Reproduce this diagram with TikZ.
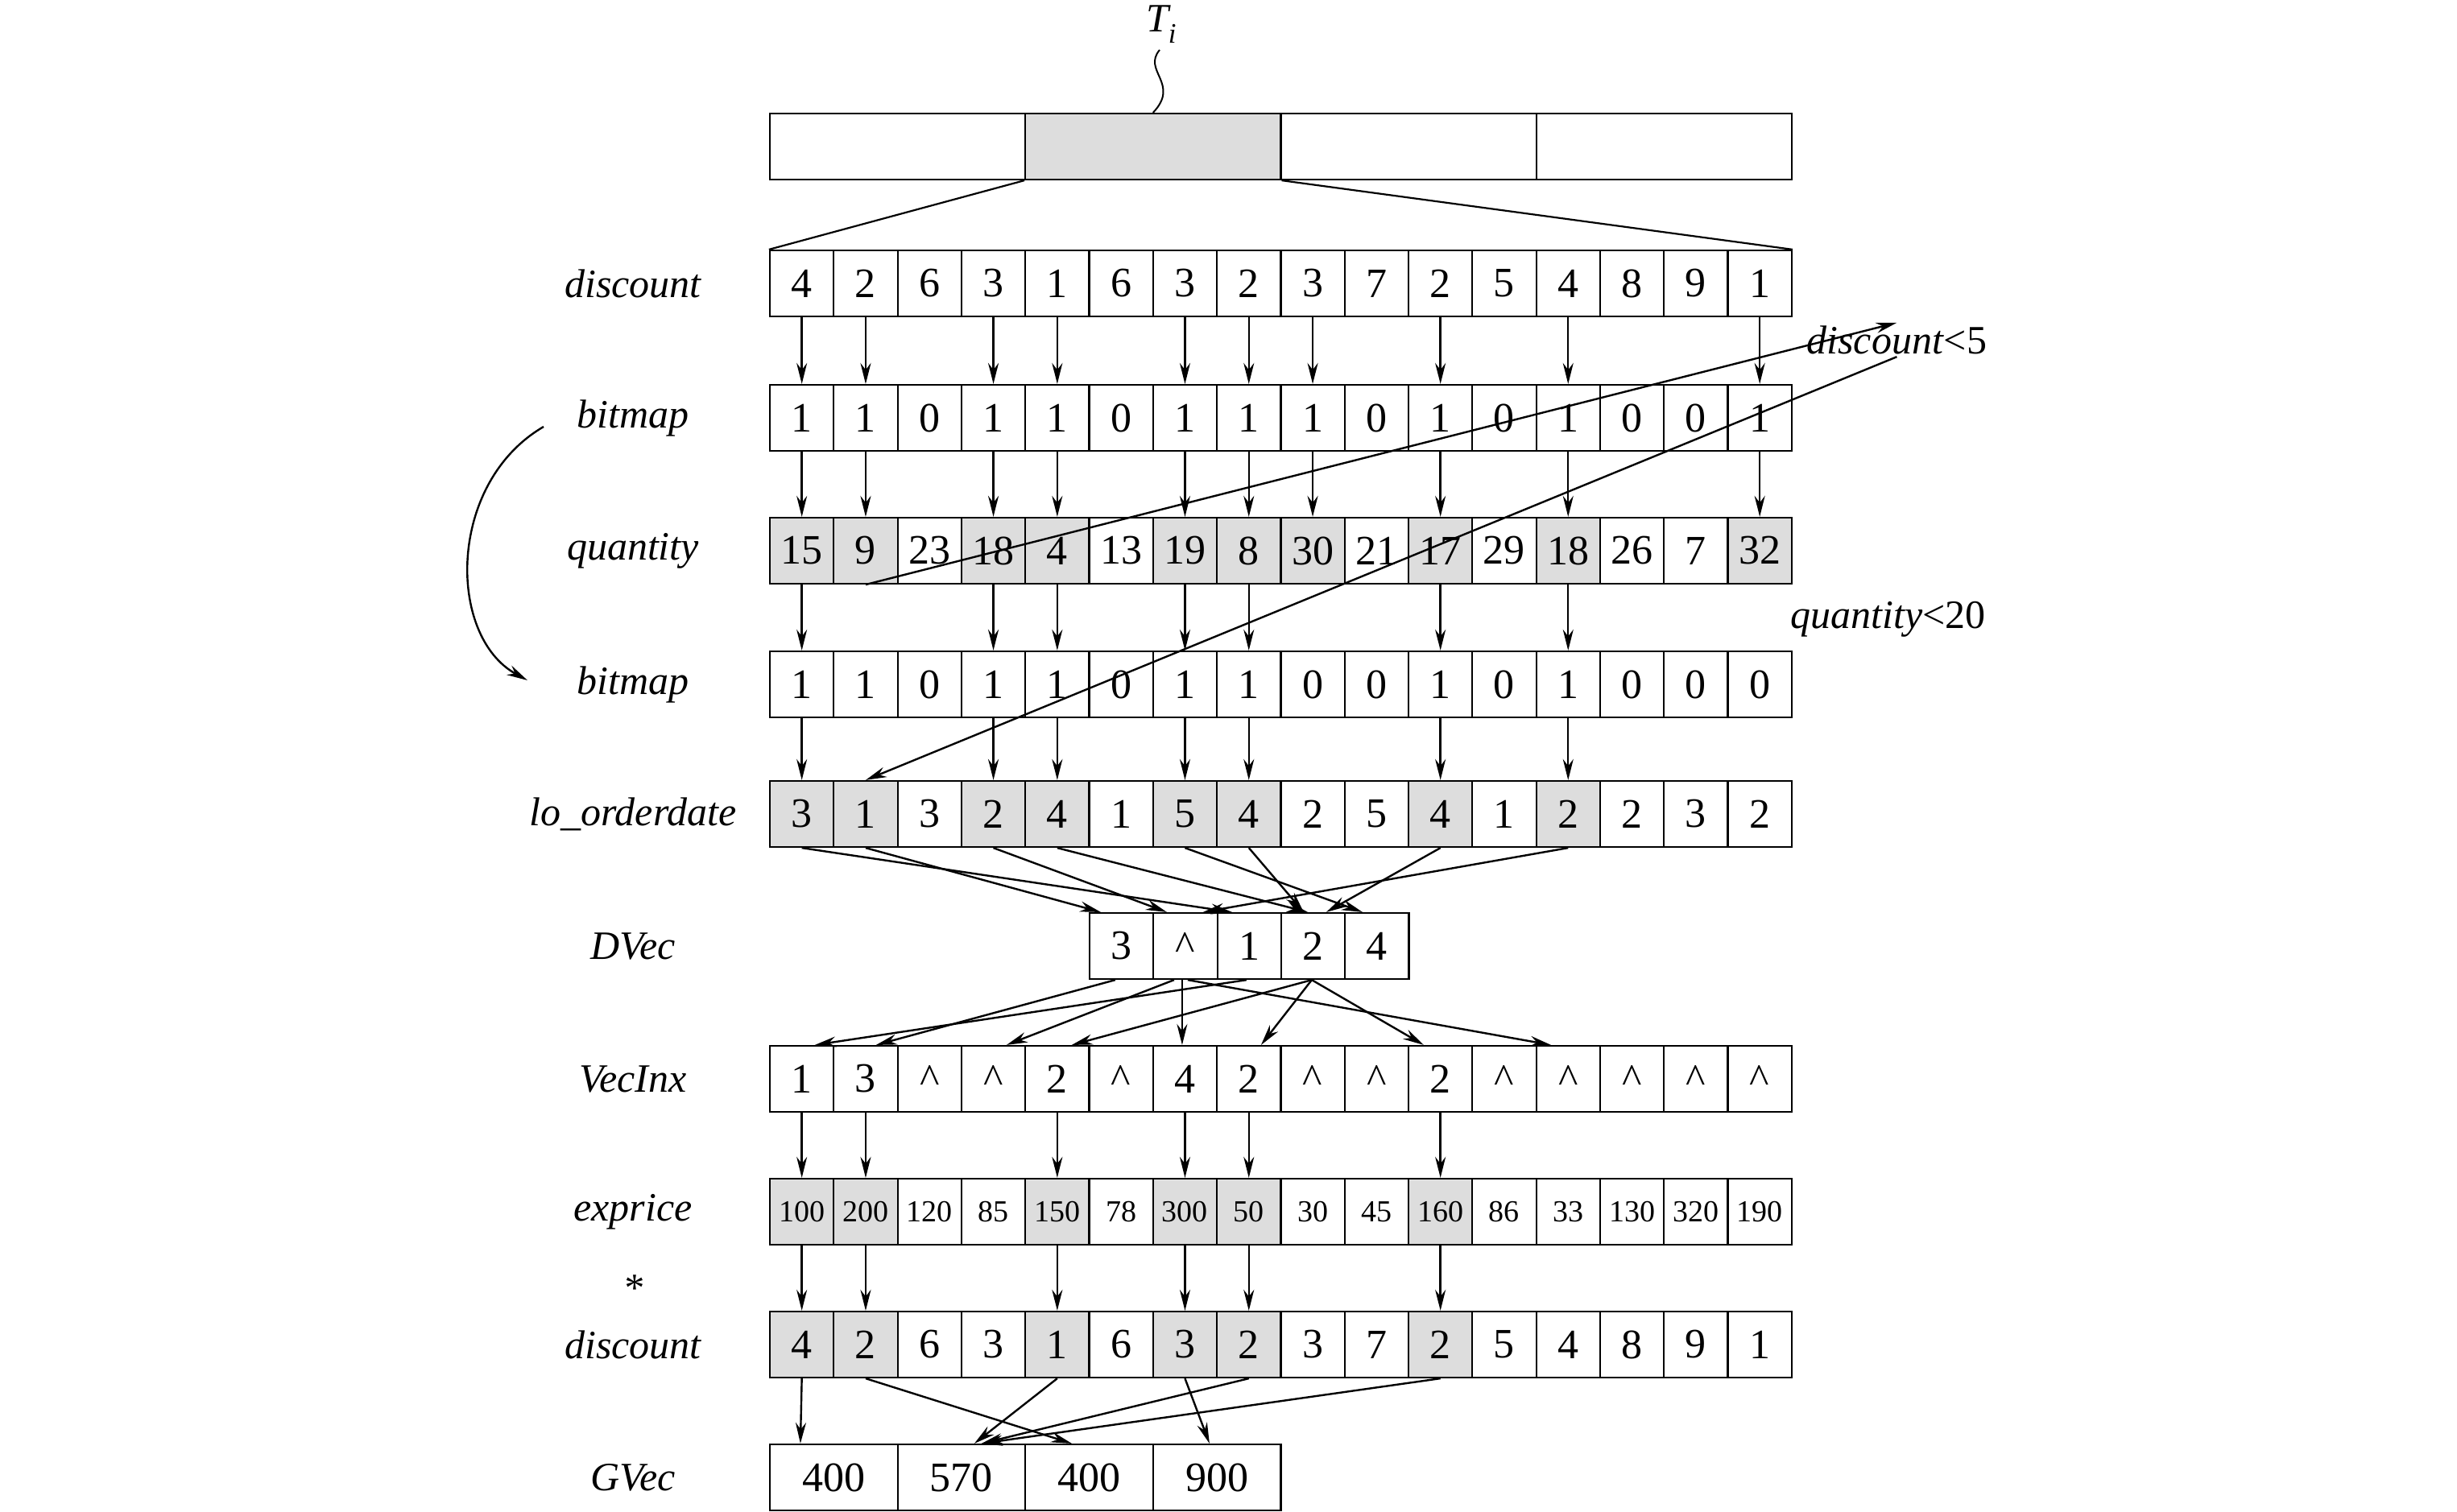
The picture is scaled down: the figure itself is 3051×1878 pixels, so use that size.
\documentclass[tikz,border=0pt]{standalone}
\usepackage{fontspec}
\setmainfont{Liberation Serif}
\usetikzlibrary{arrows.meta,calc}
\definecolor{shade}{HTML}{DDDDDD}
\newcommand\mkrow[4]{%
 \foreach \v/\s [count=\j from 0] in {#3}{%
  \ifnum\s=1
   \node[cell,fill=shade,#4] (#1\j) at (956+79.3*\j+39.65,#2+41) {\v};
  \else
   \node[cell,#4] (#1\j) at (956+79.3*\j+39.65,#2+41) {\v};
  \fi}}
\begin{document}
\begin{tikzpicture}[x=1pt,y=-1pt,
 cell/.style={draw,line width=2.2pt,minimum width=79.3pt,minimum height=82pt,inner sep=0pt,font=\fontsize{52}{52}\selectfont},
 small/.style={font=\fontsize{38}{38}\selectfont},
 lab/.style={font=\fontsize{50}{50}\selectfont\itshape},
 arr/.style={line width=2.4pt,-{Stealth[length=26pt,width=13pt]}},
 ln/.style={line width=2.2pt}]
\useasboundingbox (0,0) rectangle (3051,1878);
% top bar
\foreach \k in {0,1,2,3}{
 \ifnum\k=1
  \node[cell,fill=shade,minimum width=317.2pt] (tb\k) at (956+317.2*\k+158.6,182) {};
 \else
  \node[cell,minimum width=317.2pt] (tb\k) at (956+317.2*\k+158.6,182) {};
 \fi}
\node[lab] (ti) at (1442,30) {T\textsubscript{i}};
\draw[line width=2pt] (1440,62) .. controls (1418,88) and (1466,104) .. (tb1.north);
% rows
\mkrow{d}{311}{4/0,2/0,6/0,3/0,1/0,6/0,3/0,2/0,3/0,7/0,2/0,5/0,4/0,8/0,9/0,1/0}{}
\mkrow{b}{478}{1/0,1/0,0/0,1/0,1/0,0/0,1/0,1/0,1/0,0/0,1/0,0/0,1/0,0/0,0/0,1/0}{}
\mkrow{q}{643}{15/1,9/1,23/0,18/1,4/1,13/0,19/1,8/1,30/1,21/0,17/1,29/0,18/1,26/0,7/0,32/1}{}
\mkrow{c}{809}{1/0,1/0,0/0,1/0,1/0,0/0,1/0,1/0,0/0,0/0,1/0,0/0,1/0,0/0,0/0,0/0}{}
\mkrow{l}{970}{3/1,1/1,3/0,2/1,4/1,1/0,5/1,4/1,2/0,5/0,4/1,1/0,2/1,2/0,3/0,2/0}{}
\mkrow{v}{1299}{1/0,3/0,\textasciicircum/0,\textasciicircum/0,2/0,\textasciicircum/0,4/0,2/0,\textasciicircum/0,\textasciicircum/0,2/0,\textasciicircum/0,\textasciicircum/0,\textasciicircum/0,\textasciicircum/0,\textasciicircum/0}{}
\mkrow{x}{1464}{100/1,200/1,120/0,85/0,150/1,78/0,300/1,50/1,30/0,45/0,160/1,86/0,33/0,130/0,320/0,190/0}{small}
\mkrow{e}{1629}{4/1,2/1,6/0,3/0,1/1,6/0,3/1,2/1,3/0,7/0,2/1,5/0,4/0,8/0,9/0,1/0}{}
% DVec
\foreach \v [count=\k from 0] in {3,\textasciicircum,1,2,4}
 \node[cell] (dv\k) at (1353+79.3*\k+39.65,1175) {\v};
% GVec
\foreach \v [count=\k from 0] in {400,570,400,900}
 \node[cell,minimum width=158.6pt] (g\k) at (956+158.6*\k+79.3,1835) {\v};
% labels
\node[lab] (L1) at (786,352) {discount};
\node[lab] (L2) at (786,519) {bitmap};
\node[lab] (L3) at (786,684) {quantity};
\node[lab] (L4) at (786,850) {bitmap};
\node[lab] (L5) at (786,1011) {lo\_orderdate};
\node[lab] (L6) at (786,1175) {DVec};
\node[lab] (L7) at (786,1340) {VecInx};
\node[lab] (L8) at (786,1505) {exprice};
\node[lab] (L9) at (786,1600) {*};
\node[lab] (L10) at (786,1670) {discount};
\node[lab] (L11) at (786,1835) {GVec};
\node[font=\fontsize{50}{50}\selectfont,anchor=west] (c1) at (2240,422) {\textit{discount}<5};
\node[font=\fontsize{50}{50}\selectfont,anchor=west] (c2) at (2220,769) {\textit{quantity}<20};
% trapezoid lines
\draw[ln] (tb1.south west) -- (d0.north west);
\draw[ln] (tb1.south east) -- (d15.north east);
% vertical arrows
\foreach \c in {0,1,3,4,6,7,8,10,12,15}{
 \draw[arr] (d\c.south) -- (b\c.north);
 \draw[arr] (b\c.south) -- (q\c.north);}
\foreach \c in {0,1,3,4,6,7,10,12}{
 \draw[arr] (q\c.south) -- (c\c.north);
 \draw[arr] (c\c.south) -- (l\c.north);}
\foreach \c in {0,1,4,6,7,10}{
 \draw[arr] (v\c.south) -- (x\c.north);
 \draw[arr] (x\c.south) -- (e\c.north);}
% lo_orderdate -> DVec
\foreach \c/\o in {0/178,1/15,3/97,4/272,6/340,7/267,10/295,12/142}
 \draw[arr] (l\c.south) -- ($(dv0.north west)+(\o,0)$);
% DVec -> VecInx
\foreach \s/\t in {33/133,106/295,116/513,123/971,196/57,277/376,277/611,277/813}
 \draw[arr] ($(dv0.south west)+(\s,0)$) -- ($(v0.north west)+(\t,0)$);
% discount -> GVec
\foreach \c/\o in {0/39,1/376,4/255,6/547,7/264,10/264}
 \draw[arr] (e\c.south) -- ($(g0.north west)+(\o,0)$);
% curved arrow
\draw[arr] (675,530) .. controls (555,600) and (555,790) .. (655,845);
\end{tikzpicture}
\end{document}
